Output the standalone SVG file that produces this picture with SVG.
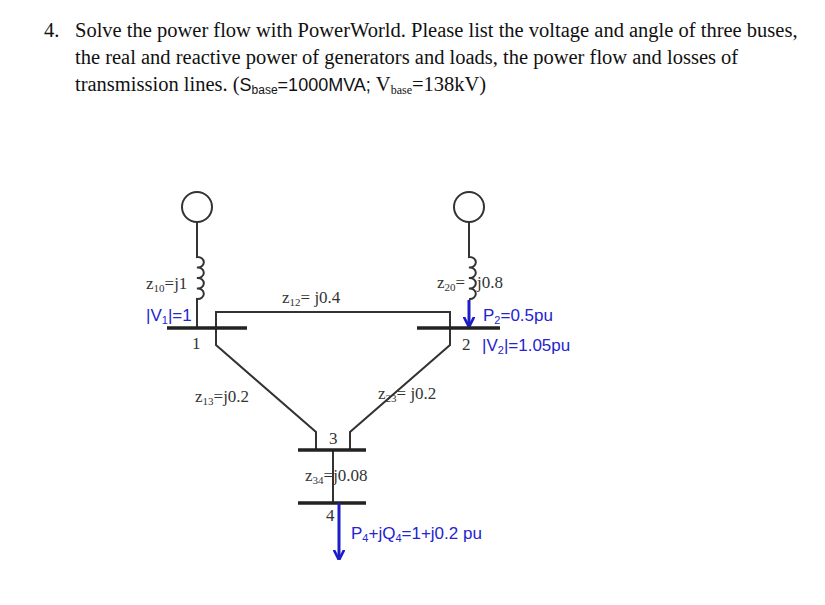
<svg xmlns="http://www.w3.org/2000/svg" width="825" height="605" viewBox="0 0 825 605">
<defs>
<style>
.t{font-family:"Liberation Serif",serif;font-size:20.5px;fill:#111}
.s{font-family:"Liberation Serif",serif;font-size:17px;fill:#333}
.b{font-family:"Liberation Sans",sans-serif;font-size:17px;fill:#2424d0}
.w{stroke:#333;stroke-width:2;fill:none}
.bus{stroke:#222;stroke-width:3.5}
.a{stroke:#1c1cc8;stroke-width:3;fill:none}
</style>
<marker id="ar" viewBox="0 0 10 10" refX="8" refY="5" markerWidth="3.5" markerHeight="4" orient="auto"><path d="M0,0 L10,5 L0,10" fill="none" stroke="#1c1cc8" stroke-width="2.5"/></marker>
</defs>
<rect width="825" height="605" fill="#fff"/>
<text class="t" x="44" y="37">4.</text>
<text class="t" x="75" y="37">Solve the power flow with PowerWorld. Please list the voltage and angle of three buses,</text>
<text class="t" x="75" y="64">the real and reactive power of generators and loads, the power flow and losses of</text>
<text class="t" x="75" y="91">transmission lines. (<tspan font-family="Liberation Sans" font-size="18">S<tspan font-size="12" dy="3">base</tspan><tspan dy="-3">=1000MVA; </tspan></tspan>V<tspan font-size="12" dy="3">base</tspan><tspan dy="-3">=138kV)</tspan></text>
<g id="connectors">
<path class="w" d="M216,328 V312 H450 V328"/>
<path class="w" d="M216,328 V345 L316,432 V450"/>
<path class="w" d="M450,328 V345 L350,432 V450"/>
<path class="w" d="M333,450 V503"/>
</g>
<g id="gen1">
<circle class="w" cx="197" cy="207" r="15"/>
<path class="w" d="M197,222 V257 a6,5.3 0 1 1 0,10.5 a6,5.3 0 1 1 0,10.5 a6,5.3 0 1 1 0,10.5 a6,5.3 0 1 1 0,10.5 V328"/>
</g>
<g id="gen2">
<circle class="w" cx="469" cy="207" r="15"/>
<path class="w" d="M469,222 V257 a6,5.3 0 1 1 0,10.5 a6,5.3 0 1 1 0,10.5 a6,5.3 0 1 1 0,10.5 a6,5.3 0 1 1 0,10.5"/>
<path class="a" d="M469,300 V325" marker-end="url(#ar)"/>
</g>
<g id="bus1"><line class="bus" x1="167" y1="328" x2="247" y2="328"/><text class="s" x="192" y="349">1</text></g>
<g id="bus2"><line class="bus" x1="417" y1="328" x2="500" y2="328"/><text class="s" x="462" y="350">2</text></g>
<g id="bus3"><line class="bus" x1="298" y1="450" x2="366" y2="450"/><text class="s" x="329" y="444">3</text></g>
<g id="bus4"><line class="bus" x1="298" y1="503" x2="366" y2="503"/><text class="s" x="326" y="521">4</text>
<path class="a" d="M339,503 V558" marker-end="url(#ar)"/></g>
<g id="labels">
<text class="s" x="146" y="289">z<tspan font-size="11" dy="3">10</tspan><tspan dy="-3">=j1</tspan></text>
<text class="b" x="146" y="321">|V<tspan font-size="11" dy="3">1</tspan><tspan dy="-3">|=1</tspan></text>
<text class="s" x="282" y="303">z<tspan font-size="11" dy="3">12</tspan><tspan dy="-3">= j0.4</tspan></text>
<text class="s" x="437" y="288">z<tspan font-size="11" dy="3">20</tspan><tspan dy="-3">=</tspan></text>
<text class="s" x="477" y="288">j0.8</text>
<text class="b" x="483" y="321">P<tspan font-size="11" dy="3">2</tspan><tspan dy="-3">=0.5pu</tspan></text>
<text class="b" x="482" y="351">|V<tspan font-size="11" dy="3">2</tspan><tspan dy="-3">|=1.05pu</tspan></text>
<text class="s" x="195" y="402">z<tspan font-size="11" dy="3">13</tspan><tspan dy="-3">=j0.2</tspan></text>
<text class="s" x="378" y="399">z<tspan font-size="11" dy="3">23</tspan><tspan dy="-3">= j0.2</tspan></text>
<text class="s" x="305" y="481">z<tspan font-size="11" dy="3">34</tspan><tspan dy="-3">=j0.08</tspan></text>
<text class="b" x="351" y="539">P<tspan font-size="11" dy="3">4</tspan><tspan dy="-3">+jQ</tspan><tspan font-size="11" dy="3">4</tspan><tspan dy="-3">=1+j0.2 pu</tspan></text>
</g>
</svg>
